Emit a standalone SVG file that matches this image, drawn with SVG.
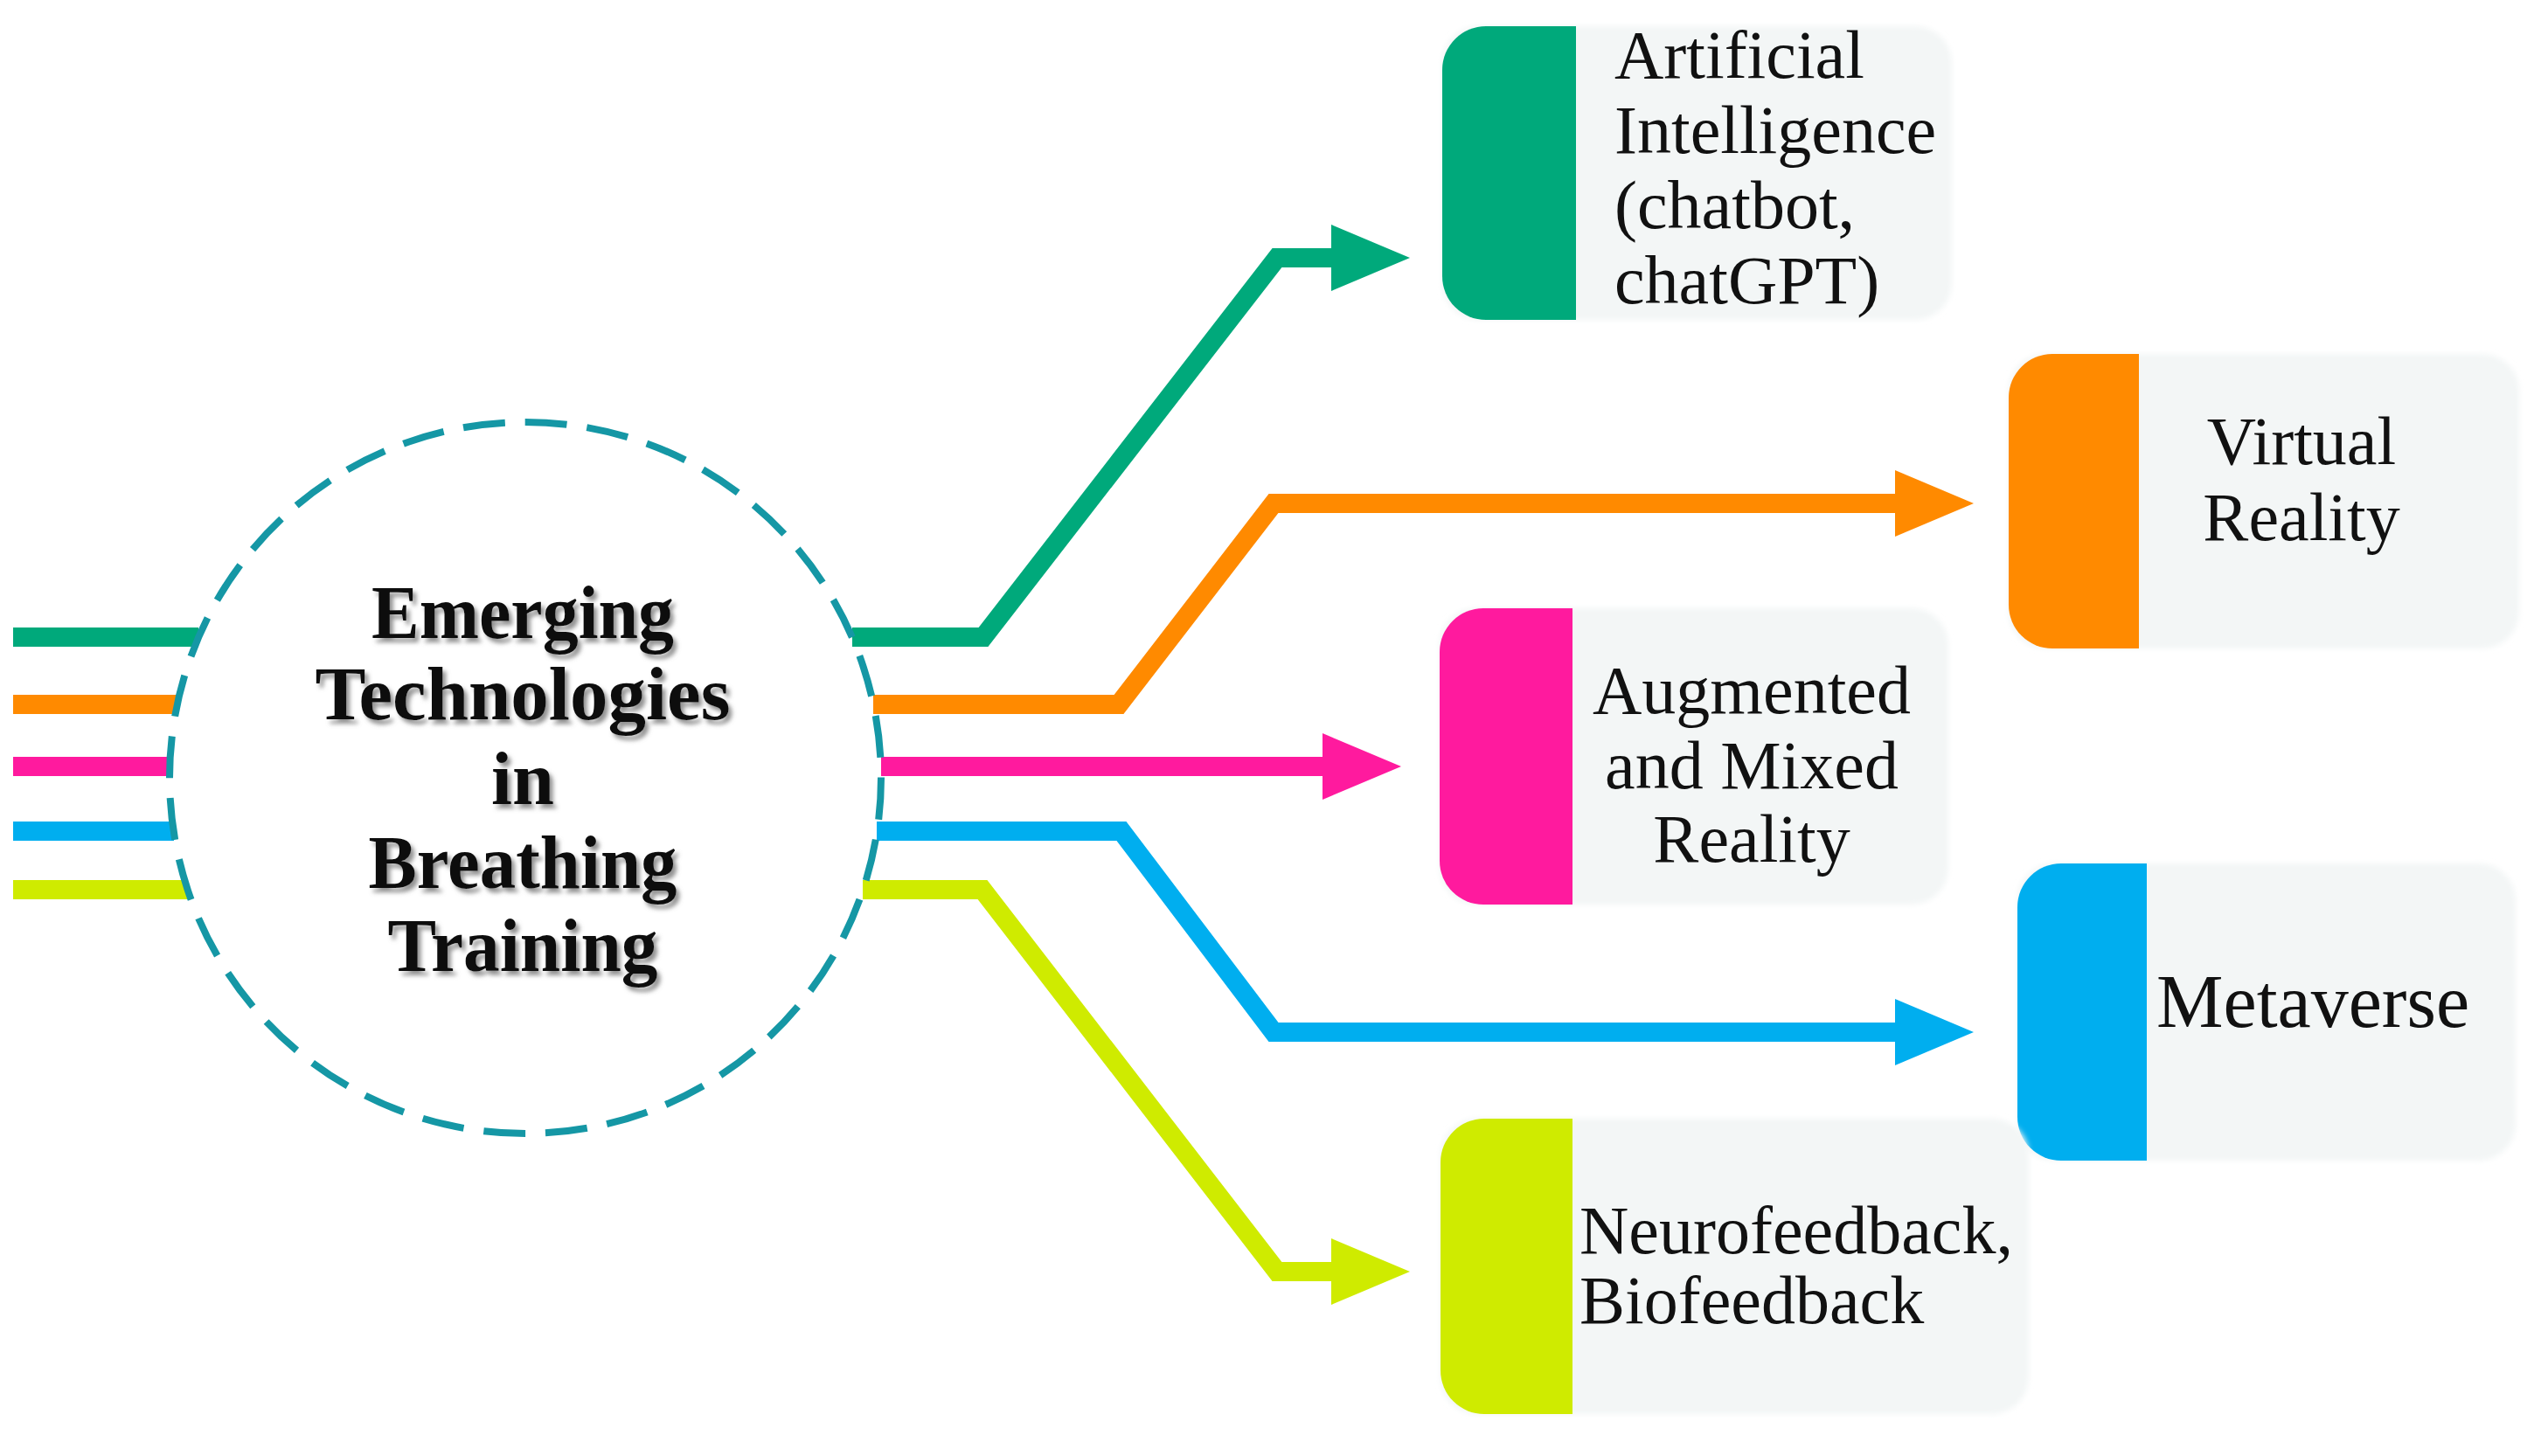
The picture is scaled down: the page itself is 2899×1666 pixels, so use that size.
<svg xmlns="http://www.w3.org/2000/svg" width="2899" height="1666" viewBox="0 0 2899 1666">
<style>
.ln{fill:none;stroke-width:22;stroke-linejoin:miter;stroke-linecap:butt}
.g{stroke:#00A97B}.o{stroke:#FF8A00}.p{stroke:#FF1A9E}.b{stroke:#00AEEF}.y{stroke:#CFEB00}
.box{fill:#F3F6F6}
.lbl{font-family:"Liberation Serif","Times New Roman",serif;font-size:78px;fill:#111}
.ctr{font-family:"Liberation Serif","Times New Roman",serif;font-size:87px;font-weight:bold;fill:#111;text-anchor:middle}
</style>
<defs>
<filter id="sh" x="-10%" y="-10%" width="130%" height="140%">
<feDropShadow dx="4" dy="5" stdDeviation="2.5" flood-color="#777" flood-opacity="0.8"/>
</filter>
<filter id="soft" x="-5%" y="-5%" width="110%" height="110%">
<feGaussianBlur stdDeviation="3"/>
</filter>
<marker id="ag" viewBox="0 0 90 76" refX="4" refY="38" markerWidth="90" markerHeight="76" markerUnits="userSpaceOnUse" orient="auto"><path d="M0,0 L90,38 L0,76 Z" fill="#00A97B"/></marker>
<marker id="ao" viewBox="0 0 90 76" refX="4" refY="38" markerWidth="90" markerHeight="76" markerUnits="userSpaceOnUse" orient="auto"><path d="M0,0 L90,38 L0,76 Z" fill="#FF8A00"/></marker>
<marker id="ap" viewBox="0 0 90 76" refX="4" refY="38" markerWidth="90" markerHeight="76" markerUnits="userSpaceOnUse" orient="auto"><path d="M0,0 L90,38 L0,76 Z" fill="#FF1A9E"/></marker>
<marker id="ab" viewBox="0 0 90 76" refX="4" refY="38" markerWidth="90" markerHeight="76" markerUnits="userSpaceOnUse" orient="auto"><path d="M0,0 L90,38 L0,76 Z" fill="#00AEEF"/></marker>
<marker id="ay" viewBox="0 0 90 76" refX="4" refY="38" markerWidth="90" markerHeight="76" markerUnits="userSpaceOnUse" orient="auto"><path d="M0,0 L90,38 L0,76 Z" fill="#CFEB00"/></marker>
</defs>
<rect width="2899" height="1666" fill="#fff"/>

<g id="connectors">
<path class="ln g" d="M15 729 H227"/>
<path class="ln o" d="M15 806 H203"/>
<path class="ln p" d="M15 877 H194"/>
<path class="ln b" d="M15 951 H199"/>
<path class="ln y" d="M15 1018 H215"/>
<path class="ln g" d="M975 729 H1125 L1461 295 H1527" marker-end="url(#ag)"/>
<path class="ln o" d="M999 806 H1280 L1457 576 H2172" marker-end="url(#ao)"/>
<path class="ln p" d="M1008 877 H1517" marker-end="url(#ap)"/>
<path class="ln b" d="M1003 951 H1283 L1457 1181 H2172" marker-end="url(#ab)"/>
<path class="ln y" d="M987 1018 H1124 L1461 1455 H1527" marker-end="url(#ay)"/>
</g>

<g id="center">
<circle cx="601" cy="890" r="407" fill="none" stroke="#1597A5" stroke-width="8" stroke-dasharray="48 23"/>
<g filter="url(#sh)">
<text class="ctr" x="598" y="730" textLength="346" lengthAdjust="spacingAndGlyphs">Emerging</text>
<text class="ctr" x="598" y="823" textLength="475" lengthAdjust="spacingAndGlyphs">Technologies</text>
<text class="ctr" x="598" y="920" textLength="72" lengthAdjust="spacingAndGlyphs">in</text>
<text class="ctr" x="598" y="1016" textLength="353" lengthAdjust="spacingAndGlyphs">Breathing</text>
<text class="ctr" x="598" y="1111" textLength="309" lengthAdjust="spacingAndGlyphs">Training</text>
</g>
</g>

<g id="node-ai">
<rect class="box" x="1650" y="30" width="583" height="336" rx="42" filter="url(#soft)"/>
<path d="M1700 30 H1803 V366 H1700 A50 50 0 0 1 1650 316 V80 A50 50 0 0 1 1700 30 Z" fill="#00A97B"/>
<text class="lbl" x="1847" y="89">Artificial</text>
<text class="lbl" x="1847" y="175">Intelligence</text>
<text class="lbl" x="1847" y="261">(chatbot,</text>
<text class="lbl" x="1847" y="347">chatGPT)</text>
</g>

<g id="node-vr">
<rect class="box" x="2298" y="405" width="584" height="337" rx="42" filter="url(#soft)"/>
<path d="M2348 405 H2447 V742 H2348 A50 50 0 0 1 2298 692 V455 A50 50 0 0 1 2348 405 Z" fill="#FF8A00"/>
<text class="lbl" x="2633" y="531" text-anchor="middle">Virtual</text>
<text class="lbl" x="2633" y="618" text-anchor="middle">Reality</text>
</g>

<g id="node-amr">
<rect class="box" x="1647" y="696" width="582" height="339" rx="42" filter="url(#soft)"/>
<path d="M1697 696 H1799 V1035 H1697 A50 50 0 0 1 1647 985 V746 A50 50 0 0 1 1697 696 Z" fill="#FF1A9E"/>
<text class="lbl" x="2004" y="816" text-anchor="middle">Augmented</text>
<text class="lbl" x="2004" y="902" text-anchor="middle">and Mixed</text>
<text class="lbl" x="2004" y="986" text-anchor="middle">Reality</text>
</g>

<g id="node-metaverse">
<rect class="box" x="2308" y="988" width="570" height="340" rx="42" filter="url(#soft)"/>
<path d="M2358 988 H2456 V1328 H2358 A50 50 0 0 1 2308 1278 V1038 A50 50 0 0 1 2358 988 Z" fill="#00AEEF"/>
<text class="lbl" x="2467" y="1175" style="font-size:86px">Metaverse</text>
</g>

<g id="node-neuro">
<rect class="box" x="1648" y="1280" width="673" height="338" rx="42" filter="url(#soft)"/>
<path d="M1698 1280 H1799 V1618 H1698 A50 50 0 0 1 1648 1568 V1330 A50 50 0 0 1 1698 1280 Z" fill="#CFEB00"/>
<text class="lbl" x="1807" y="1434">Neurofeedback,</text>
<text class="lbl" x="1807" y="1514">Biofeedback</text>
</g>
</svg>
